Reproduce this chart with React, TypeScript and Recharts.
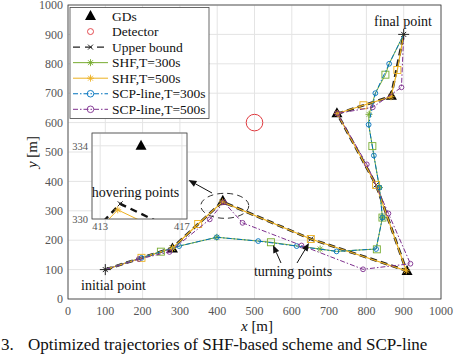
import React from 'react';
import { ScatterChart, Scatter, XAxis, YAxis, CartesianGrid, ReferenceDot } from 'recharts';

// ---------- data ----------
const X_TICKS = [0, 100, 200, 300, 400, 500, 600, 700, 800, 900, 1000];
const Y_TICKS = [0, 100, 200, 300, 400, 500, 600, 700, 800, 900, 1000];
const INSET_X_TICKS = [413, 417];
const INSET_Y_TICKS = [330, 334];

const gdPoints = [
  { x: 280, y: 172 },
  { x: 415, y: 334 },
  { x: 909, y: 95 },
  { x: 721, y: 632 },
  { x: 867, y: 691 },
];
const detectorPoints = [{ x: 500, y: 600 }];
const endPoints = [
  { x: 100, y: 100 },
  { x: 900, y: 900 },
];
const upperBound = [
  { x: 100, y: 100 },
  { x: 280, y: 174 },
  { x: 413.98, y: 330.83 },
  { x: 651, y: 204 },
  { x: 907, y: 97 },
  { x: 826, y: 388 },
  { x: 722, y: 630 },
  { x: 866, y: 689 },
  { x: 900, y: 900 },
];
const shf300 = [
  { x: 100, y: 100 }, { x: 197, y: 140 }, { x: 249, y: 161 }, { x: 298, y: 180 },
  { x: 399, y: 210 }, { x: 510, y: 197 }, { x: 544, y: 193 }, { x: 616, y: 180 },
  { x: 676, y: 170 }, { x: 720, y: 162 }, { x: 826, y: 170 }, { x: 843, y: 277 },
  { x: 835, y: 379 }, { x: 820, y: 488 }, { x: 816, y: 520 }, { x: 806, y: 593 },
  { x: 807, y: 628 }, { x: 824, y: 700 }, { x: 851, y: 763 }, { x: 861, y: 800 },
  { x: 900, y: 900 },
];
const shf300Stars = [
  { x: 280, y: 172 }, { x: 399, y: 210 }, { x: 676, y: 170 }, { x: 843, y: 277 },
  { x: 835, y: 379 }, { x: 807, y: 628 },
];
const shf300Turns = [
  { x: 249, y: 161 }, { x: 544, y: 193 }, { x: 828, y: 169 }, { x: 843, y: 277 },
  { x: 816, y: 520 }, { x: 851, y: 763 },
];
const shf500 = [
  { x: 100, y: 100 }, { x: 197, y: 140 }, { x: 280, y: 173 }, { x: 349, y: 255 },
  { x: 413.86, y: 330.5 }, { x: 651, y: 204 }, { x: 907, y: 96 }, { x: 826, y: 388 },
  { x: 722, y: 631 }, { x: 792, y: 659 }, { x: 866, y: 688 }, { x: 883, y: 779 },
  { x: 900, y: 900 },
];
const shf500Stars = [
  { x: 280, y: 173 }, { x: 413.86, y: 330.5 }, { x: 907, y: 96 }, { x: 722, y: 631 },
  { x: 866, y: 688 },
];
const shf500Turns = [
  { x: 197, y: 140 }, { x: 349, y: 255 }, { x: 651, y: 204 }, { x: 826, y: 388 },
  { x: 792, y: 659 }, { x: 883, y: 779 },
];
const scp300 = [
  { x: 100, y: 100 }, { x: 197, y: 140 }, { x: 298, y: 180 }, { x: 399, y: 210 },
  { x: 510, y: 197 }, { x: 613, y: 180 }, { x: 720, y: 162 }, { x: 826, y: 170 },
  { x: 843, y: 277 }, { x: 835, y: 379 }, { x: 820, y: 488 }, { x: 806, y: 593 },
  { x: 824, y: 700 }, { x: 861, y: 800 }, { x: 900, y: 900 },
];
const scp500 = [
  { x: 100, y: 100 }, { x: 190, y: 136 }, { x: 272, y: 160 }, { x: 380, y: 271 },
  { x: 418, y: 329 }, { x: 468, y: 259 }, { x: 626, y: 182 }, { x: 791, y: 101 },
  { x: 918, y: 120 }, { x: 859, y: 291 }, { x: 801, y: 458 }, { x: 722, y: 631 },
  { x: 817, y: 652 }, { x: 894, y: 720 }, { x: 900, y: 900 },
];

const LEGEND_LABELS = ['GDs', 'Detector', 'Upper bound', 'SHF,T=300s', 'SHF,T=500s', 'SCP-line,T=300s', 'SCP-line,T=500s'];
const CAPTION_NUM = '3.';
const CAPTION = 'Optimized trajectories of SHF-based scheme and SCP-line';

// ---------- styles ----------
const FONT = "'Liberation Serif', 'DejaVu Serif', serif";
const C_GREEN = '#77AC30';
const C_ORANGE = '#EDB120';
const C_BLUE = '#0072BD';
const C_PURPLE = '#7E2F8E';
const C_RED = '#E0393E';
const DASHDOT = '5 2 1.5 2';

// ---------- marker shapes ----------
const none = () => <g />;
const triShape = (p: any) => (
  <polygon points={`${p.cx},${p.cy - 6} ${p.cx - 5.5},${p.cy + 4} ${p.cx + 5.5},${p.cy + 4}`} fill="#000" />
);
const circleShape = (color: string, r: number, w = 0.9) => (p: any) => (
  <circle cx={p.cx} cy={p.cy} r={r} fill="none" stroke={color} strokeWidth={w} />
);
const squareShape = (color: string, s: number) => (p: any) => (
  <rect x={p.cx - s / 2} y={p.cy - s / 2} width={s} height={s} fill="none" stroke={color} strokeWidth={0.9} />
);
const xShape = (color: string, s: number, w = 1) => (p: any) => (
  <g stroke={color} strokeWidth={w}>
    <line x1={p.cx - s} y1={p.cy - s} x2={p.cx + s} y2={p.cy + s} />
    <line x1={p.cx - s} y1={p.cy + s} x2={p.cx + s} y2={p.cy - s} />
  </g>
);
const plusShape = (color: string, s: number, w = 1) => (p: any) => (
  <g stroke={color} strokeWidth={w}>
    <line x1={p.cx - s} y1={p.cy} x2={p.cx + s} y2={p.cy} />
    <line x1={p.cx} y1={p.cy - s} x2={p.cx} y2={p.cy + s} />
  </g>
);
const starShape = (color: string, s: number) => (p: any) => (
  <g stroke={color} strokeWidth={0.9}>
    <line x1={p.cx - s} y1={p.cy} x2={p.cx + s} y2={p.cy} />
    <line x1={p.cx} y1={p.cy - s} x2={p.cx} y2={p.cy + s} />
    <line x1={p.cx - s * 0.7} y1={p.cy - s * 0.7} x2={p.cx + s * 0.7} y2={p.cy + s * 0.7} />
    <line x1={p.cx - s * 0.7} y1={p.cy + s * 0.7} x2={p.cx + s * 0.7} y2={p.cy - s * 0.7} />
  </g>
);
const ellipseShape = (p: any) => (
  <ellipse cx={p.cx + 2} cy={p.cy + 5} rx={24} ry={12.5} fill="none" stroke="#333" strokeWidth={1} strokeDasharray="6 4" />
);

const tickStyle = { fontFamily: FONT, fontSize: 12, fill: '#555', style: { fontFamily: FONT } };
const insetTickStyle = { fontFamily: FONT, fontSize: 10.5, fill: '#555', style: { fontFamily: FONT } };

function Arrow({ x1, y1, x2, y2 }: { x1: number; y1: number; x2: number; y2: number }) {
  const a = Math.atan2(y2 - y1, x2 - x1);
  const L = 8, W = 3.2;
  const bx = x2 - L * Math.cos(a), by = y2 - L * Math.sin(a);
  const px = -Math.sin(a) * W, py = Math.cos(a) * W;
  return (
    <g>
      <line x1={x1} y1={y1} x2={bx} y2={by} stroke="#111" strokeWidth={1} />
      <polygon points={`${x2},${y2} ${bx + px},${by + py} ${bx - px},${by - py}`} fill="#111" />
    </g>
  );
}

function LegendSample({ i, y }: { i: number; y: number }) {
  const x0 = 73, x1 = 108, xm = 90.5;
  switch (i) {
    case 0:
      return triShape({ cx: xm, cy: y });
    case 1:
      return <circle cx={xm} cy={y} r={3} fill="none" stroke={C_RED} strokeWidth={0.9} />;
    case 2:
      return (
        <g>
          <line x1={x0} y1={y} x2={x1} y2={y} stroke="#222" strokeWidth={1.1} strokeDasharray="7 5" />
          {xShape('#222', 2.5, 1)({ cx: xm, cy: y })}
        </g>
      );
    case 3:
      return (
        <g>
          <line x1={x0} y1={y} x2={x1} y2={y} stroke={C_GREEN} strokeWidth={1} />
          {starShape(C_GREEN, 3.5)({ cx: xm, cy: y })}
        </g>
      );
    case 4:
      return (
        <g>
          <line x1={x0} y1={y} x2={x1} y2={y} stroke={C_ORANGE} strokeWidth={1} />
          {starShape(C_ORANGE, 3.5)({ cx: xm, cy: y })}
        </g>
      );
    case 5:
      return (
        <g>
          <line x1={x0} y1={y} x2={x1} y2={y} stroke={C_BLUE} strokeWidth={1} strokeDasharray={DASHDOT} />
          {circleShape(C_BLUE, 3.3)({ cx: xm, cy: y })}
        </g>
      );
    default:
      return (
        <g>
          <line x1={x0} y1={y} x2={x1} y2={y} stroke={C_PURPLE} strokeWidth={1} strokeDasharray={DASHDOT} />
          {circleShape(C_PURPLE, 3.3)({ cx: xm, cy: y })}
        </g>
      );
  }
}

const txt = { fontFamily: FONT };

export default function App() {
  return (
    <div style={{ position: 'absolute', left: 0, top: 0, width: 474, height: 355, background: '#fff', overflow: 'hidden', fontFamily: FONT }}>
      {/* main chart */}
      <div style={{ position: 'absolute', left: 0, top: 0 }}>
        <ScatterChart width={474} height={355} margin={{ top: 5, right: 33, bottom: 26, left: 8 }} style={{ fontFamily: FONT }}>
          <CartesianGrid stroke="#e4e4e4" strokeWidth={1} />
          <XAxis
            type="number"
            dataKey="x"
            domain={[0, 1000]}
            ticks={X_TICKS}
            interval={0}
            height={30}
            axisLine={false}
            tickLine={false}
            tickSize={0}
            tickMargin={7}
            tick={tickStyle}
          />
          <YAxis
            type="number"
            dataKey="y"
            domain={[0, 1000]}
            ticks={Y_TICKS}
            interval={0}
            width={60}
            axisLine={false}
            tickLine={false}
            tickSize={0}
            tickMargin={5}
            tick={tickStyle}
          />
          <Scatter data={gdPoints} shape={triShape} isAnimationActive={false} />
          <Scatter data={detectorPoints} shape={circleShape(C_RED, 8.3, 1)} isAnimationActive={false} />
          <Scatter
            data={upperBound}
            shape={xShape('#222', 2.5, 1)}
            line={{ stroke: '#222', strokeWidth: 2.6, strokeDasharray: '7 4' }}
            lineType="joint"
            isAnimationActive={false}
          />
          <Scatter data={shf300} shape={none} line={{ stroke: C_GREEN, strokeWidth: 1 }} lineType="joint" isAnimationActive={false} />
          <Scatter data={shf300Stars} shape={starShape(C_GREEN, 3.5)} isAnimationActive={false} />
          <Scatter data={shf300Turns} shape={squareShape(C_GREEN, 7)} isAnimationActive={false} />
          <Scatter data={shf500} shape={none} line={{ stroke: C_ORANGE, strokeWidth: 1.2 }} lineType="joint" isAnimationActive={false} />
          <Scatter data={shf500Stars} shape={starShape(C_ORANGE, 3.5)} isAnimationActive={false} />
          <Scatter data={shf500Turns} shape={squareShape(C_ORANGE, 7)} isAnimationActive={false} />
          <Scatter data={scp300} shape={none} line={{ stroke: C_BLUE, strokeWidth: 1, strokeDasharray: DASHDOT }} lineType="joint" isAnimationActive={false} />
          <Scatter data={scp300.slice(1, -1)} shape={circleShape(C_BLUE, 2.4)} isAnimationActive={false} />
          <Scatter data={scp500} shape={none} line={{ stroke: C_PURPLE, strokeWidth: 1, strokeDasharray: DASHDOT }} lineType="joint" isAnimationActive={false} />
          <Scatter data={scp500.slice(1, -1)} shape={circleShape(C_PURPLE, 2.4)} isAnimationActive={false} />
          <Scatter data={endPoints} shape={plusShape('#222', 5.5, 1)} isAnimationActive={false} />
          <ReferenceDot x={gdPoints[1].x} y={gdPoints[1].y} shape={ellipseShape} />
        </ScatterChart>
      </div>

      {/* inset */}
      <div style={{ position: 'absolute', left: 60, top: 125 }}>
        <ScatterChart width={135} height={115} margin={{ top: 8, right: 8, bottom: 0, left: 0 }} style={{ fontFamily: FONT }}>
          <CartesianGrid stroke="#e4e4e4" fill="#fff" fillOpacity={1} />
          <XAxis
            type="number"
            dataKey="x"
            domain={[412.6, 417.25]}
            allowDataOverflow
            ticks={INSET_X_TICKS}
            interval={0}
            height={21}
            axisLine={false}
            tickLine={false}
            tickSize={0}
            tickMargin={4}
            tick={insetTickStyle}
          />
          <YAxis
            type="number"
            dataKey="y"
            domain={[330, 334.7]}
            allowDataOverflow
            ticks={INSET_Y_TICKS}
            interval={0}
            width={32}
            axisLine={false}
            tickLine={false}
            tickSize={0}
            tickMargin={4}
            tick={insetTickStyle}
          />
          <Scatter data={gdPoints} shape={triShape} isAnimationActive={false} />
          <Scatter
            data={upperBound}
            shape={xShape('#222', 2.5, 1)}
            line={{ stroke: '#111', strokeWidth: 2.4, strokeDasharray: '7 5' }}
            lineType="joint"
            isAnimationActive={false}
          />
          <Scatter data={shf500} shape={none} line={{ stroke: C_ORANGE, strokeWidth: 1 }} lineType="joint" isAnimationActive={false} />
          <Scatter data={shf500Stars} shape={starShape(C_ORANGE, 3.5)} isAnimationActive={false} />
        </ScatterChart>
      </div>

      {/* overlay: frames, legend, annotations */}
      <svg width={474} height={355} style={{ position: 'absolute', left: 0, top: 0, pointerEvents: 'none', fontFamily: FONT }}>
        <rect x={68} y={5} width={373} height={294} fill="none" stroke="#333" strokeWidth={0.8} />
        <rect x={92} y={133} width={95} height={86} fill="none" stroke="#444" strokeWidth={0.8} />

        <rect x={70} y={7.5} width={139} height={111} fill="#fff" stroke="#444" strokeWidth={0.8} />
        {LEGEND_LABELS.map((lab, i) => {
          const y = 16 + i * 15.55;
          return (
            <g key={lab}>
              <LegendSample i={i} y={y} />
              <text x={112} y={y + 4.5} fontSize={13.5} fill="#111" style={txt}>{lab}</text>
            </g>
          );
        })}

        <text x={135.5} y={197} fontSize={14} textAnchor="middle" fill="#111" style={txt}>hovering points</text>
        <text x={293} y={276} fontSize={14} textAnchor="middle" fill="#111" style={txt}>turning points</text>
        <text x={113.5} y={290} fontSize={14} textAnchor="middle" fill="#111" style={txt}>initial point</text>
        <text x={403} y={26} fontSize={14} textAnchor="middle" fill="#111" style={txt}>final point</text>

        <Arrow x1={212} y1={193} x2={188.5} y2={180} />
        <Arrow x1={281} y1={263} x2={273} y2={245} />
        <Arrow x1={297} y1={263} x2={309} y2={243} />

        <text x={257} y={331} fontSize={15} textAnchor="middle" fill="#111" style={txt}>
          <tspan fontStyle="italic">x</tspan> [m]
        </text>
        <text x={37} y={152} fontSize={15} textAnchor="middle" fill="#111" transform="rotate(-90 37 152)" style={txt}>
          <tspan fontStyle="italic">y</tspan> [m]
        </text>

        <text x={1} y={350} fontSize={17} fill="#111" style={txt}>{CAPTION_NUM}</text>
        <text x={28} y={350} fontSize={17} fill="#111" style={txt}>{CAPTION}</text>
      </svg>
    </div>
  );
}
